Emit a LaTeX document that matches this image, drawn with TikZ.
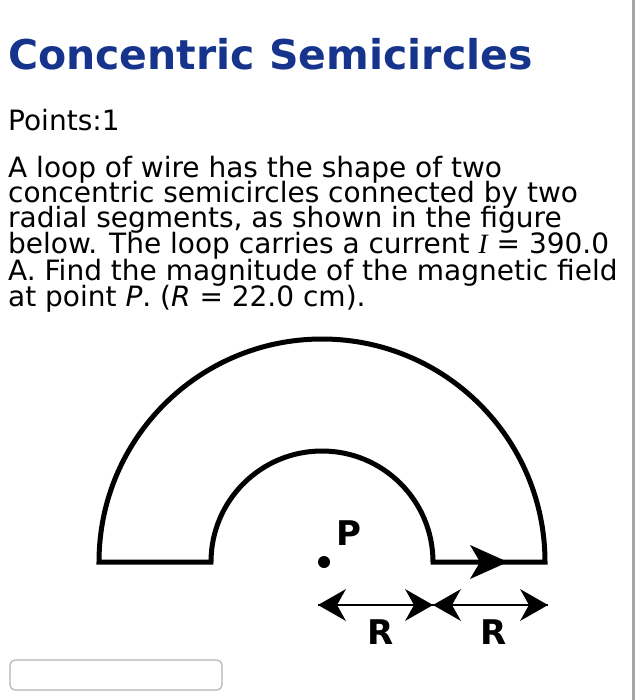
\documentclass[tikz,border=0pt]{standalone}
\usepackage{fontspec}
\setmainfont{DejaVu Sans}
\newfontfamily\serifit{Liberation Serif}[ItalicFont=* Italic]
\definecolor{titleblue}{RGB}{22,52,140}
\begin{document}
\begin{tikzpicture}[x=1pt,y=-1pt,
  line/.style={anchor=base west,inner sep=0pt,font=\fontsize{28}{28}\selectfont},
  wire/.style={line width=5pt,line join=miter},
  dim/.style={line width=1.5pt},
  lbl/.style={font=\fontsize{34}{34}\selectfont\bfseries,inner sep=0pt},
  headR/.style={insert path={++(-28,-16) -- ++(28,16) -- ++(-28,16) -- ++(9,-16) -- cycle}},
  headL/.style={insert path={++(28,-16) -- ++(-28,16) -- ++(28,16) -- ++(-9,-16) -- cycle}}]
\useasboundingbox (0,0) rectangle (641,700);
\fill[gray!70] (632,0) rectangle (635,700);
\node[anchor=base west,inner sep=0pt,font=\fontsize{41}{41}\selectfont\bfseries,text=titleblue] (title) at (8,70) {Concentric Semicircles};
\node[line] (pts) at (8,131) {Points:1};
\node[line] (l1) at (8,178) {A loop of wire has the shape of two};
\node[line] (l2) at (8,203) {concentric semicircles connected by two};
\node[line] (l3) at (8,228) {radial segments, as shown in the figure};
\node[line] (l4) at (8,254) {below. The loop carries a current {\serifit\itshape I} = 390.0};
\node[line] (l5) at (8,280) {A. Find the magnitude of the magnetic field};
\node[line] (l6) at (8,306) {at point \textit{P}. (\textit{R} = 22.0 cm).};
% wire
\draw[wire] (99,562) arc[start angle=180,end angle=0,x radius=223,y radius=-223]
  -- (433,562) arc[start angle=0,end angle=180,x radius=111,y radius=-111] -- cycle;
\fill (470,545) -- (508,562) -- (470,579) -- (480,562) -- cycle;
% point
\coordinate (P) at (324,562);
\fill (P) circle (6);
\node[lbl] (Pl) at (349,533) {P};
\coordinate (d0) at (318,605);
\coordinate (d1) at (433,605);
\coordinate (d2) at (548,605);
\draw[dim] (d0) -- (d1);
\draw[dim] (d1) -- (d2);
\fill (d0) [headL];
\fill (d1) [headR];
\fill (d1) [headL];
\fill (d2) [headR];
\node[lbl] (R1) at (381,632) {R};
\node[lbl] (R2) at (494,632) {R};
\draw[gray!60,line width=1.2pt,rounded corners=5pt] (10,660) rectangle (222,690);
\end{tikzpicture}
\end{document}
